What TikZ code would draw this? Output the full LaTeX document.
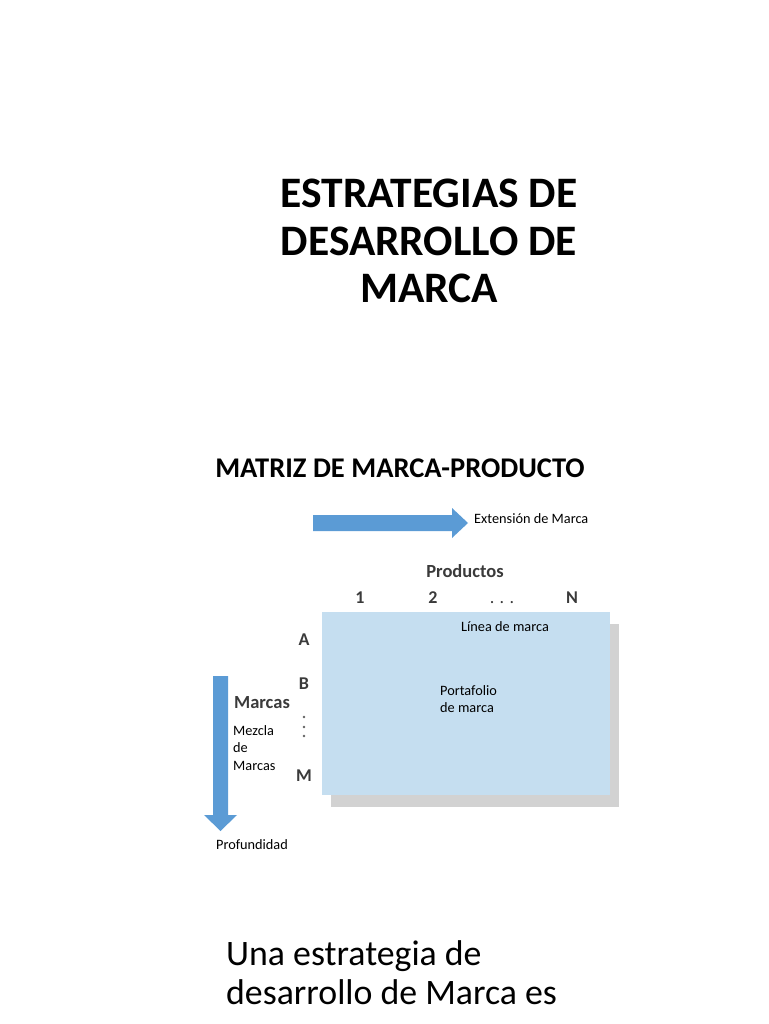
\documentclass[tikz,border=0pt]{standalone}
\usepackage{fontspec}
\setmainfont{Carlito}
\usetikzlibrary{positioning,shadows}
\definecolor{arrowblue}{HTML}{5B9BD5}
\definecolor{matrixblue}{HTML}{C5DEF0}
\definecolor{shadowgray}{HTML}{D2D2D2}
\definecolor{scangray}{HTML}{3A3A3A}

\begin{document}
\begin{tikzpicture}[
  x=1pt, y=-1pt,
  heading/.style={font=\fontsize{43.5}{47}\selectfont\bfseries, anchor=base, inner sep=0pt},
  subheading/.style={font=\fontsize{28.5}{32}\selectfont\bfseries, anchor=base, inner sep=0pt},
  body/.style={font=\fontsize{35.8}{39}\selectfont, anchor=base west, inner sep=0pt},
  note/.style={font=\fontsize{14.3}{17.5}\selectfont, align=left, inner sep=0pt},
  axis/.style={font=\fontsize{18.5}{20}\selectfont\bfseries, text=scangray, inner sep=0pt},
  idx/.style={font=\fontsize{18}{20}\selectfont\bfseries, text=scangray, inner sep=0pt, anchor=base},
  bluearrow/.style={fill=arrowblue}
]
\useasboundingbox (0,0) rectangle (768,1024);

% Title
\node[heading] (title1) at (429,208) {ESTRATEGIAS DE};
\node[heading] (title2) at (429,255) {DESARROLLO DE};
\node[heading] (title3) at (429,302) {MARCA};

\node[subheading] (matrixtitle) at (400,477) {MATRIZ DE MARCA-PRODUCTO};

% Extension arrow
\coordinate (ext) at (313,523);
\fill[bluearrow] (ext) ++(0,-8) -- ++(139,0) -- ++(0,-7) -- (468,523) -- (452,538) -- ++(0,-7) -- ++(-139,0) -- cycle;
\node[note, anchor=west] (extlabel) at (474,519) {Extensión de Marca};

% Matrix
\node[fill=matrixblue, minimum width=288pt, minimum height=183pt, anchor=north west,
  drop shadow={shadow xshift=9pt, shadow yshift=-12pt, fill=shadowgray, opacity=1}] (matrix) at (322,612) {};
\node[note] (linea) at (505,627) {Línea de marca};
\node[note, anchor=west] (portafolio) at (440,699) {Portafolio\\de marca};

% Products
\node[axis] (productos) at (465,571) {Productos};
\node[idx] (p1) at (360,603) {1};
\node[idx] (p2) at (433,603) {2};
\node[idx, font=\fontsize{18}{20}\selectfont] (pdots) at (502,603) {. . .};
\node[idx] (pN) at (572,603) {N};

% Brands
\node[idx] (mA) at (304,645) {A};
\node[idx] (mB) at (304,689) {B};
\foreach \y in {717,727,736}
  \fill[scangray!80] (304,\y) circle (1.4pt);
\node[idx] (mM) at (304,781) {M};
\node[axis] (marcas) at (262,703) {Marcas};
\node[note, anchor=west] (mezcla) at (233,748) {Mezcla\\de\\Marcas};

% Depth arrow
\coordinate (prof) at (220.5,676);
\fill[bluearrow] (prof) ++(-7.5,0) -- ++(15,0) -- ++(0,139) -- ++(9,0) -- (220.5,831) -- (204,815) -- ++(9,0) -- cycle;
\node[note] (proflabel) at (252,845) {Profundidad};

% Text
\node[body] (text1) at (226,965) {Una estrategia de};
\node[body] (text2) at (226,1004) {desarrollo de Marca es};
\end{tikzpicture}
\end{document}
